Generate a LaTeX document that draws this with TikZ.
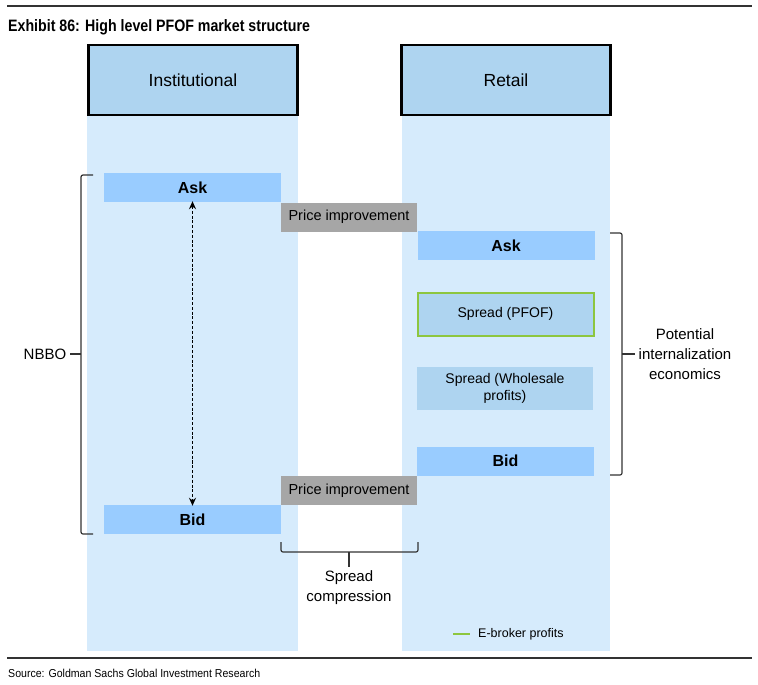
\documentclass[tikz,border=0pt]{standalone}
\usepackage{fontspec}
\setmainfont{Liberation Sans}
\newfontfamily\narrowfont[FakeStretch=0.86]{Liberation Sans}
\newfontfamily\sourcefont[FakeStretch=0.92]{Liberation Sans}
\usetikzlibrary{arrows.meta}

\definecolor{colBg}{RGB}{214,235,252}
\definecolor{headBlue}{RGB}{174,212,240}
\definecolor{quoteBlue}{RGB}{153,204,255}
\definecolor{piGray}{RGB}{166,166,166}
\definecolor{eGreen}{RGB}{141,198,63}
\definecolor{ruleGray}{RGB}{50,50,50}

\begin{document}
\begin{tikzpicture}[x=1pt, y=-1pt,
    headbox/.style={draw=black, line width=2.5pt, fill=headBlue, minimum width=209pt,
        minimum height=70pt, inner sep=0pt, font=\fontsize{17.5}{20}\selectfont},
    quotebox/.style={fill=quoteBlue, minimum width=177pt, minimum height=29pt,
        inner sep=0pt, font=\fontsize{16}{19}\selectfont\bfseries},
    pibox/.style={fill=piGray, minimum width=136pt, minimum height=29pt,
        inner sep=0pt, font=\fontsize{14.5}{17}\selectfont},
    spreadbox/.style={fill=headBlue, minimum width=176pt, minimum height=43pt,
        inner sep=0pt, align=center, font=\fontsize{14}{17}\selectfont},
    bracket/.style={line width=1.2pt, draw=black!80, rounded corners=2pt},
    note/.style={align=center, font=\fontsize{15}{20}\selectfont}]

    \useasboundingbox (0,0) rectangle (758,685);

    % rules and captions
    \draw[ruleGray, line width=1.4pt] (7,6) -- (752,6);
    \draw[ruleGray, line width=1.4pt] (7,658) -- (752,658);
    \node[anchor=base west, inner sep=0pt] (title) at (8,32)
        {\narrowfont\bfseries\fontsize{16.5}{19}\selectfont Exhibit 86: High level PFOF market structure};
    \node[anchor=base west, inner sep=0pt] (source) at (8,677)
        {\sourcefont\fontsize{11.5}{14}\selectfont Source: Goldman Sachs Global Investment Research};

    % columns
    \fill[colBg] (87,115) rectangle (298,651);
    \fill[colBg] (402,115) rectangle (610,651);
    \node[headbox] (inst) at (193,80) {Institutional};
    \node[headbox] (retail) at (506,80) {Retail};

    % quotes
    \node[quotebox] (instAsk) at (192.5,187.5) {Ask};
    \node[pibox] (piTop) at (349,217) {Price improvement};
    \node[quotebox] (retAsk) at (506,245.5) {Ask};
    \node[spreadbox, draw=eGreen, line width=2pt] (pfof) at (505.5,314) {Spread (PFOF)};
    \node[spreadbox] (wholesale) at (505,388.5) {Spread (Wholesale\\profits)};
    \node[quotebox] (retBid) at (505.5,461) {Bid};
    \node[pibox] (piBot) at (349,490.5) {Price improvement};
    \node[quotebox] (instBid) at (192.5,519.5) {Bid};

    \draw[line width=1.7pt, dash pattern=on 3pt off 1.8pt,
        {Stealth[length=8pt,width=7pt]}-{Stealth[length=8pt,width=7pt]}]
        ([yshift=1pt]instAsk.south) -- ([yshift=-1pt]instBid.north);

    % brackets
    \node[note] (nbbo) at (45,354) {NBBO};
    \draw[bracket] (93,175) -- (81,175) -- (81,534) -- (93,534);
    \draw[bracket] (81,354) -- (nbbo.east);

    \node[note] (econ) at (685,354) {Potential\\internalization\\economics};
    \draw[bracket] (610,233) -- (622,233) -- (622,475) -- (610,475);
    \draw[bracket] (622,354) -- (econ.west);

    \node[note] (compress) at (349,588) {Spread\\compression};
    \draw[bracket] (281,542) -- (281,552) -- (418,552) -- (418,542);
    \draw[bracket] (349,552) -- (compress.north);

    % legend
    \coordinate (legA) at (453,634);
    \coordinate (legB) at (470,634);
    \draw[eGreen, line width=2.5pt] (legA) -- (legB);
    \node[anchor=west, inner sep=0pt, font=\fontsize{12.5}{15}\selectfont] (legend) at (478,634) {E-broker profits};
\end{tikzpicture}
\end{document}
